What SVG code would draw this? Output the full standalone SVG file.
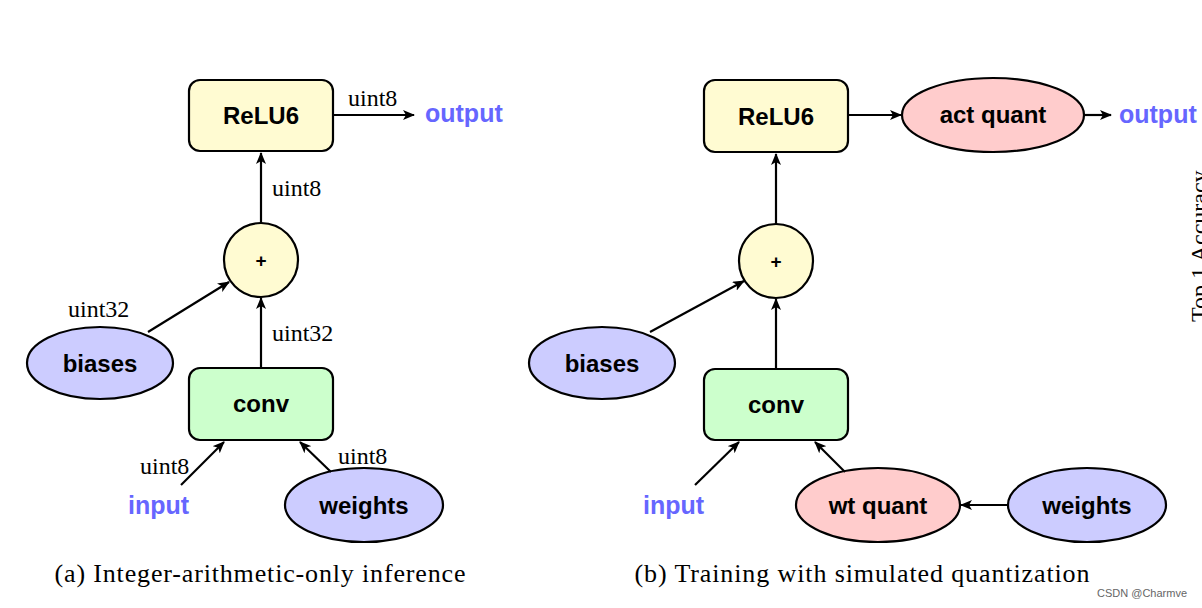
<svg xmlns="http://www.w3.org/2000/svg" width="1202" height="608" viewBox="0 0 1202 608">
<defs>
<marker id="ah" viewBox="0 0 12 10" refX="11" refY="5" markerWidth="12" markerHeight="10" markerUnits="userSpaceOnUse" orient="auto"><path d="M0,0 L12,5 L0,10 L3,5 Z" fill="#000"/></marker>
</defs>
<style>
.box{stroke:#000;stroke-width:2.2}
.y{fill:#fffbd2}.g{fill:#ccffcc}.b{fill:#ccccff}.r{fill:#ffcccc}
.n{font-family:"Liberation Sans",Arial,sans-serif;font-weight:bold;font-size:24px;text-anchor:middle;fill:#000}
.io{font-family:"Liberation Sans",Arial,sans-serif;font-weight:bold;font-size:25px;fill:#6666ff}
.l{font-family:"Liberation Serif","Times New Roman",serif;font-size:24px;fill:#000}
.cap{font-family:"Liberation Serif","Times New Roman",serif;font-size:26px;fill:#000;text-anchor:middle}
.e{stroke:#000;stroke-width:2.2;fill:none;marker-end:url(#ah)}
</style>
<rect width="1202" height="608" fill="#fff"/>
<g id="a-relu"><rect class="box y" x="189" y="80" width="144" height="71" rx="11"/><text class="n" x="261" y="124">ReLU6</text></g>
<g id="a-plus"><circle class="box y" cx="261" cy="260" r="37"/><text class="n" x="261" y="267" style="font-size:19px">+</text></g>
<g id="a-biases"><ellipse class="box b" cx="100" cy="363" rx="73" ry="36"/><text class="n" x="100" y="372">biases</text></g>
<g id="a-conv"><rect class="box g" x="189" y="368" width="144" height="72" rx="11"/><text class="n" x="261" y="412">conv</text></g>
<g id="a-weights"><ellipse class="box b" cx="364" cy="505" rx="79" ry="37"/><text class="n" x="364" y="514">weights</text></g>
<g id="a-io"><text class="io" x="425" y="122">output</text><text class="io" x="128" y="514">input</text></g>
<g id="b-relu"><rect class="box y" x="704" y="80" width="144" height="72" rx="11"/><text class="n" x="776" y="125">ReLU6</text></g>
<g id="b-act"><ellipse class="box r" cx="993" cy="115" rx="91" ry="37"/><text class="n" x="993" y="123">act quant</text></g>
<g id="b-plus"><circle class="box y" cx="776" cy="261" r="37"/><text class="n" x="776" y="268" style="font-size:19px">+</text></g>
<g id="b-biases"><ellipse class="box b" cx="602" cy="363" rx="73" ry="36"/><text class="n" x="602" y="372">biases</text></g>
<g id="b-conv"><rect class="box g" x="704" y="369" width="144" height="71" rx="11"/><text class="n" x="776" y="413">conv</text></g>
<g id="b-wtq"><ellipse class="box r" cx="878" cy="505" rx="82" ry="37"/><text class="n" x="878" y="514">wt quant</text></g>
<g id="b-weights"><ellipse class="box b" cx="1087" cy="505" rx="79" ry="37"/><text class="n" x="1087" y="514">weights</text></g>
<g id="b-io"><text class="io" x="1119" y="123">output</text><text class="io" x="643" y="514">input</text></g>
<g id="connectors">
<line class="e" x1="333" y1="115" x2="414" y2="115"/>
<line class="e" x1="261" y1="223" x2="261" y2="153"/>
<line class="e" x1="148" y1="332" x2="229" y2="282"/>
<line class="e" x1="261" y1="368" x2="261" y2="298"/>
<line class="e" x1="181" y1="485" x2="224" y2="442"/>
<line class="e" x1="331" y1="472" x2="300" y2="442"/>
<line class="e" x1="848" y1="115" x2="901" y2="115"/>
<line class="e" x1="1084" y1="115" x2="1111" y2="115"/>
<line class="e" x1="776" y1="224" x2="776" y2="154"/>
<line class="e" x1="650" y1="332" x2="744" y2="281"/>
<line class="e" x1="776" y1="369" x2="776" y2="299"/>
<line class="e" x1="695" y1="485" x2="739" y2="442"/>
<line class="e" x1="845" y1="472" x2="815" y2="442"/>
<line class="e" x1="1008" y1="505" x2="961" y2="505"/>
</g>
<g id="labels">
<text class="l" x="348" y="106">uint8</text>
<text class="l" x="272" y="196">uint8</text>
<text class="l" x="68" y="317">uint32</text>
<text class="l" x="272" y="341">uint32</text>
<text class="l" x="140" y="474">uint8</text>
<text class="l" x="338" y="464">uint8</text>
<text class="cap" x="260" y="582" textLength="411">(a) Integer-arithmetic-only inference</text>
<text class="cap" x="862" y="582" textLength="455">(b) Training with simulated quantization</text>
<text class="l" transform="translate(1207,322) rotate(-90)">Top 1 Accuracy</text>
<text x="1187" y="597" text-anchor="end" style="font-family:'Liberation Sans',Arial,sans-serif;font-size:11px;fill:#666">CSDN @Charmve</text>
</g>
</svg>
